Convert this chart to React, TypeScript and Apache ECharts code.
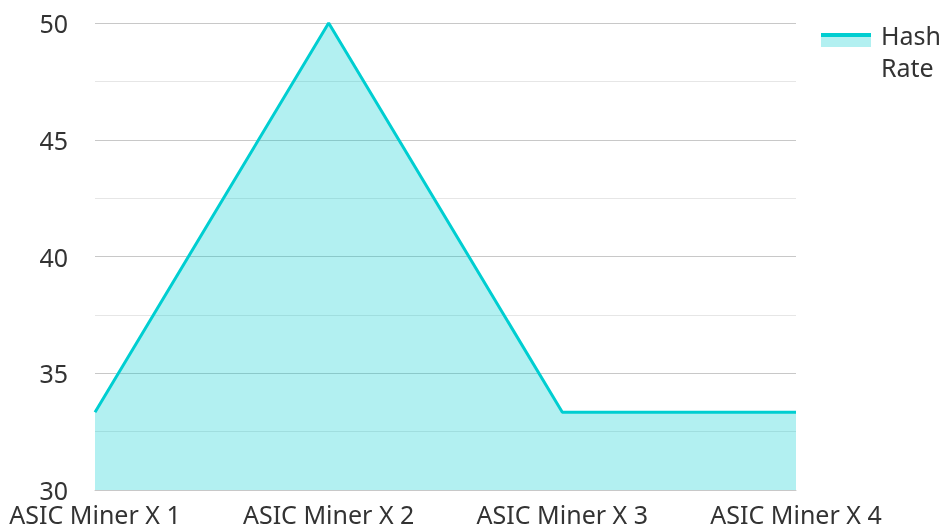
import React, { useEffect, useRef } from "react";
import * as echarts from "echarts";

const categories = ["ASIC Miner X 1", "ASIC Miner X 2", "ASIC Miner X 3", "ASIC Miner X 4"];
const hashRate = [33.33, 50, 33.33, 33.33];
const seriesName = "Hash Rate";
const yMin = 30;
const yMax = 50;
const yInterval = 5;

const LINE = "#00CED1";
const FILL = "rgba(0,206,209,0.3)";
const FONT = "'Noto Sans', 'Open Sans', sans-serif";

export default function App() {
  const ref = useRef<HTMLDivElement>(null);
  useEffect(() => {
    document.body.style.margin = "0";
    const chart = echarts.init(ref.current!, undefined, { renderer: "svg" });
    chart.setOption({
      animation: false,
      textStyle: { fontFamily: FONT },
      grid: { left: 95, right: 146, top: 23, bottom: 41 },
      legend: {
        left: 826,
        top: 19,
        padding: 0,
        orient: "vertical",
        align: "left",
        icon: "rect",
        itemWidth: 50,
        itemHeight: 14,
        itemStyle: { opacity: 0 },
        formatter: (name: string) => name.split(" ").join("\n"),
        textStyle: {
          fontFamily: FONT,
          fontSize: 25,
          color: "#333",
          lineHeight: 32,
        },
        data: [seriesName],
      },
      xAxis: {
        type: "category",
        data: categories,
        boundaryGap: false,
        axisLine: { show: true, lineStyle: { color: "#c8c8c8", width: 1 } },
        axisTick: { show: false },
        axisLabel: { fontSize: 25, color: "#333", margin: 11, fontFamily: FONT, interval: 0 },
        splitLine: { show: false },
      },
      yAxis: {
        type: "value",
        min: yMin,
        max: yMax,
        interval: yInterval,
        axisLine: { show: false },
        axisTick: { show: false },
        axisLabel: { fontSize: 25, color: "#333", margin: 27, fontFamily: FONT },
        splitLine: { show: true, lineStyle: { color: "#c8c8c8", width: 1 } },
        minorTick: { show: false, splitNumber: 2 },
        minorSplitLine: { show: true, lineStyle: { color: "#e6e6e6", width: 1 } },
      },
      series: [
        {
          name: seriesName,
          type: "line",
          data: hashRate,
          showSymbol: false,
          symbol: "none",
          lineStyle: { color: LINE, width: 3 },
          itemStyle: { color: LINE },
          areaStyle: { color: LINE, opacity: 0.3, origin: "start" },
        },
      ],
      graphic: [
        { type: "rect", left: 821, top: 33, shape: { width: 50, height: 14 }, style: { fill: FILL }, z: 100 },
        { type: "rect", left: 821, top: 33, shape: { width: 50, height: 4 }, style: { fill: LINE }, z: 101 },
      ],
    });
    return () => chart.dispose();
  }, []);
  return <div ref={ref} style={{ position: "fixed", left: 0, top: 0, width: 942, height: 531 }} />;
}
